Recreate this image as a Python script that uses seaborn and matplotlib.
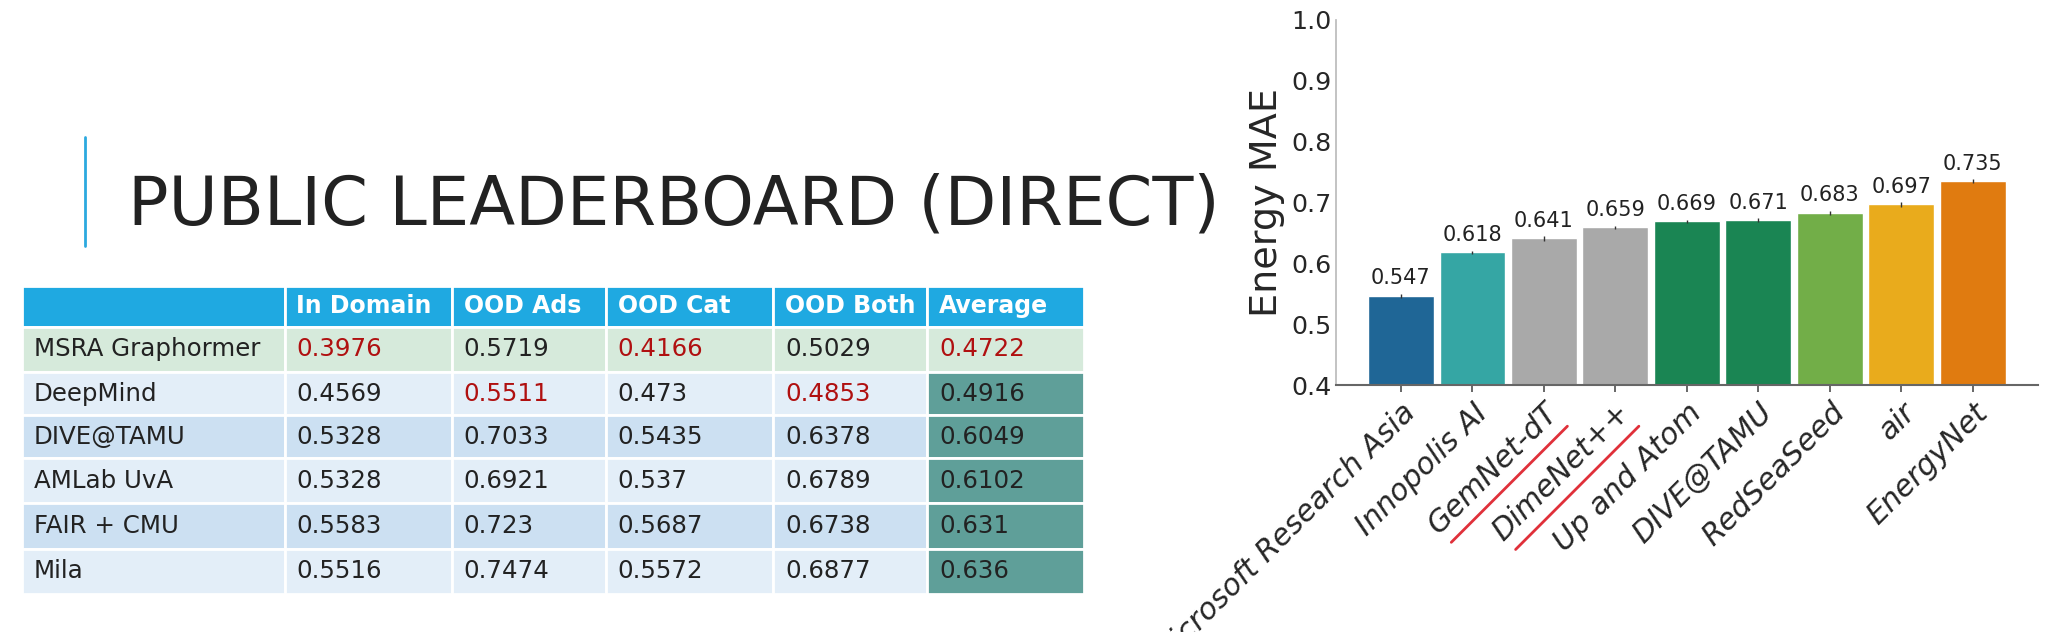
import matplotlib
matplotlib.use("Agg")
import matplotlib.pyplot as plt
import seaborn as sns
import pandas as pd
import numpy as np
from matplotlib.patches import Rectangle
from matplotlib.lines import Line2D

sns.set_theme(style="white")
plt.rcParams['font.family'] = ['DejaVu Sans']

# ---- table data ----
col_headers = ["", "In Domain", "OOD Ads", "OOD Cat", "OOD Both", "Average"]
row_names = ["MSRA Graphormer", "DeepMind", "DIVE@TAMU", "AMLab UvA", "FAIR + CMU", "Mila"]
in_domain = ["0.3976", "0.4569", "0.5328", "0.5328", "0.5583", "0.5516"]
ood_ads = ["0.5719", "0.5511", "0.7033", "0.6921", "0.723", "0.7474"]
ood_cat = ["0.4166", "0.473", "0.5435", "0.537", "0.5687", "0.5572"]
ood_both = ["0.5029", "0.4853", "0.6378", "0.6789", "0.6738", "0.6877"]
average = ["0.4722", "0.4916", "0.6049", "0.6102", "0.631", "0.636"]
red_cells = {(0, 1), (0, 3), (0, 5), (1, 2), (1, 4)}

# ---- bar data ----
teams = ["Microsoft Research Asia", "Innopolis AI", "GemNet-dT", "DimeNet++",
         "Up and Atom", "DIVE@TAMU", "RedSeaSeed", "air", "EnergyNet"]
mae = [0.547, 0.618, 0.641, 0.659, 0.669, 0.671, 0.683, 0.697, 0.735]
err = [0.003, 0.003, 0.004, 0.003, 0.003, 0.003, 0.003, 0.004, 0.003]
bar_colors = ["#1f6696", "#35a6a4", "#a9a9a9", "#a9a9a9", "#1a8553", "#1a8553",
              "#72ae48", "#e9ab1c", "#e07b10"]
underlined = ["GemNet-dT", "DimeNet++"]

W, H = 2048, 632
S = 2048 / 1568  # layout measured on a 1568-wide view
fig = plt.figure(figsize=(W / 100, H / 100), dpi=100)
fig.patch.set_facecolor("white")

def fx(x): return x * S / W
def fy(y): return 1 - y * S / H
def fs(v): return v * S

# title
fig.add_artist(Line2D([fx(65), fx(65)], [fy(105), fy(188)], color="#2ca9df", lw=2))
fig.text(fx(98), fy(157), "PUBLIC LEADERBOARD (DIRECT)", fontsize=fs(37), color="#222222",
         va="center", ha="left")

# table
cols = [17, 218, 346, 464, 592, 710, 830]
rows = [219, 250, 285, 318, 351, 385, 420, 455]
row_bg = ["#d6eadb", "#e3eef8", "#cce0f2", "#e3eef8", "#cce0f2", "#e3eef8"]
for c in range(6):
    x0, x1 = cols[c], cols[c + 1]
    y0, y1 = rows[0], rows[1]
    fig.add_artist(Rectangle((fx(x0), fy(y1)), fx(x1) - fx(x0), fy(y0) - fy(y1),
                             facecolor="#1fa9e1", edgecolor="white", lw=2))
    fig.text(fx(x0 + 9), fy((y0 + y1) / 2), col_headers[c], color="white",
             fontsize=fs(13), fontweight="bold", va="center", ha="left")
cols_data = [row_names, in_domain, ood_ads, ood_cat, ood_both, average]
for r in range(6):
    y0, y1 = rows[r + 1], rows[r + 2]
    for c in range(6):
        x0, x1 = cols[c], cols[c + 1]
        bg = row_bg[r]
        if c == 5 and r >= 1:
            bg = "#5f9f99"
        fig.add_artist(Rectangle((fx(x0), fy(y1)), fx(x1) - fx(x0), fy(y0) - fy(y1),
                                 facecolor=bg, edgecolor="white", lw=2))
        color = "#b01010" if (r, c) in red_cells else "#222222"
        fig.text(fx(x0 + 9), fy((y0 + y1) / 2), cols_data[c][r], color=color,
                 fontsize=fs(13.5), va="center", ha="left")

# bar chart
ax = fig.add_axes([fx(1023), fy(295), fx(1560) - fx(1023), fy(15) - fy(295)])
df = pd.DataFrame({"team": teams, "mae": mae})
sns.barplot(data=df, x="team", y="mae", hue="team", palette=bar_colors,
            legend=False, ax=ax, width=0.92, saturation=1)
ax.errorbar(range(len(teams)), mae, yerr=err, fmt="none", ecolor="#333333", lw=1)
for i, v in enumerate(mae):
    ax.text(i, v + 0.012, f"{v:.3f}", ha="center", va="bottom", fontsize=fs(11.5), color="#222222")
ax.set_ylim(0.4, 1.0)
ax.set_yticks([0.4, 0.5, 0.6, 0.7, 0.8, 0.9, 1.0])
ax.set_yticklabels(["0.4", "0.5", "0.6", "0.7", "0.8", "0.9", "1.0"], fontsize=fs(14))
ax.set_xlabel("")
ax.set_ylabel("Energy MAE", fontsize=fs(21))
ax.set_xticks(range(len(teams)))
ax.set_xticklabels(teams, rotation=45, ha="right", rotation_mode="anchor",
                   fontsize=fs(16.5), fontstyle="italic")
ax.tick_params(axis="x", length=5, bottom=True, color="#555555", pad=4)
ax.tick_params(axis="y", length=0)
sns.despine(ax=ax)
ax.spines["left"].set_color("#bbbbbb")
ax.spines["bottom"].set_color("#666666")
ax.spines["bottom"].set_linewidth(1.5)

# red underlines under selected tick labels
fig.canvas.draw()
renderer = fig.canvas.get_renderer()
for lab in ax.get_xticklabels():
    if lab.get_text() in underlined:
        bb = lab.get_window_extent(renderer)
        w = bb.width
        hgt = bb.height
        # rotated 45deg: text box height h -> bottom edge starts at x0 + h/sqrt2
        side = (w + hgt) / 2  # approx
        h_txt = bb.width - bb.height * 0  # unused
        wb = bb.width
        # solve: bbox width = (tw + th)/sqrt2, height = same; bottom edge from (x0+th/sqrt2, y0) to (x1, y0+tw/sqrt2)
        th = fs(16.5) * 1.2 * 100 / 72
        tw = wb * np.sqrt(2) - th
        xa, ya = bb.x0 + th / np.sqrt(2) + 3, bb.y0 - 3
        xb, yb = bb.x1 + 3, bb.y0 + tw / np.sqrt(2) - 3
        fig.add_artist(Line2D([xa / W, xb / W], [ya / H, yb / H], color="#e0303a", lw=2))

fig.savefig("out.png", dpi=100, facecolor="white")
